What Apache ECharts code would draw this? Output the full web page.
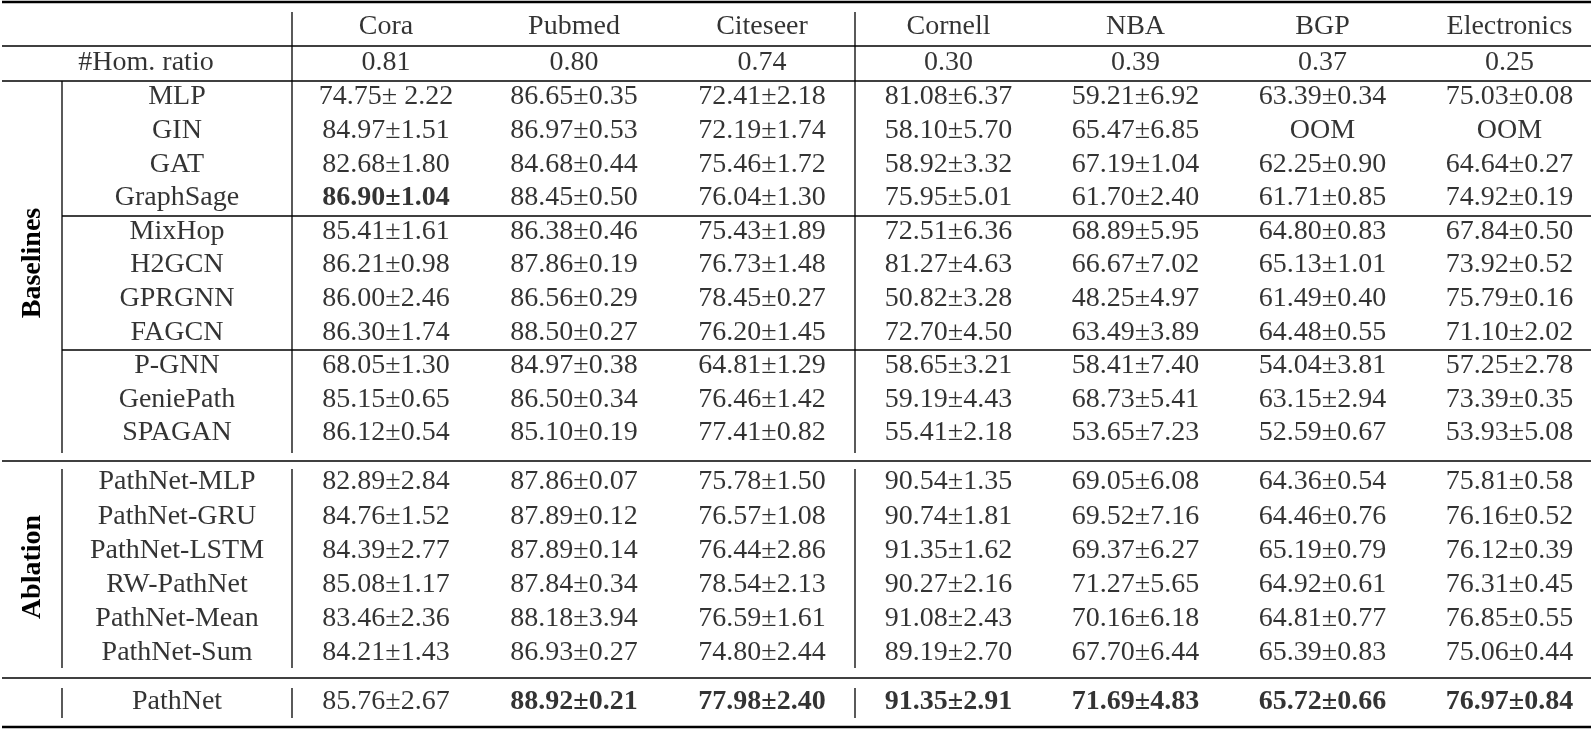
<!DOCTYPE html>
<html><head><meta charset="utf-8">
<script src="https://cdn.jsdelivr.net/npm/echarts@6/dist/echarts.min.js"></script>
<style>html,body{margin:0;background:#fff}#c{width:1593px;height:731px}</style>
</head><body><div id="c"></div>
<script>
const datasets = ['Cora', 'Pubmed', 'Citeseer', 'Cornell', 'NBA', 'BGP', 'Electronics'];
const homRatio = ['0.81', '0.80', '0.74', '0.30', '0.39', '0.37', '0.25'];
const baselineNames = ['MLP', 'GIN', 'GAT', 'GraphSage', 'MixHop', 'H2GCN', 'GPRGNN', 'FAGCN', 'P-GNN', 'GeniePath', 'SPAGAN'];
const baselineVals = [
  ['74.75± 2.22', '86.65±0.35', '72.41±2.18', '81.08±6.37', '59.21±6.92', '63.39±0.34', '75.03±0.08'],
  ['84.97±1.51', '86.97±0.53', '72.19±1.74', '58.10±5.70', '65.47±6.85', 'OOM', 'OOM'],
  ['82.68±1.80', '84.68±0.44', '75.46±1.72', '58.92±3.32', '67.19±1.04', '62.25±0.90', '64.64±0.27'],
  ['86.90±1.04', '88.45±0.50', '76.04±1.30', '75.95±5.01', '61.70±2.40', '61.71±0.85', '74.92±0.19'],
  ['85.41±1.61', '86.38±0.46', '75.43±1.89', '72.51±6.36', '68.89±5.95', '64.80±0.83', '67.84±0.50'],
  ['86.21±0.98', '87.86±0.19', '76.73±1.48', '81.27±4.63', '66.67±7.02', '65.13±1.01', '73.92±0.52'],
  ['86.00±2.46', '86.56±0.29', '78.45±0.27', '50.82±3.28', '48.25±4.97', '61.49±0.40', '75.79±0.16'],
  ['86.30±1.74', '88.50±0.27', '76.20±1.45', '72.70±4.50', '63.49±3.89', '64.48±0.55', '71.10±2.02'],
  ['68.05±1.30', '84.97±0.38', '64.81±1.29', '58.65±3.21', '58.41±7.40', '54.04±3.81', '57.25±2.78'],
  ['85.15±0.65', '86.50±0.34', '76.46±1.42', '59.19±4.43', '68.73±5.41', '63.15±2.94', '73.39±0.35'],
  ['86.12±0.54', '85.10±0.19', '77.41±0.82', '55.41±2.18', '53.65±7.23', '52.59±0.67', '53.93±5.08']
];
const ablationNames = ['PathNet-MLP', 'PathNet-GRU', 'PathNet-LSTM', 'RW-PathNet', 'PathNet-Mean', 'PathNet-Sum'];
const ablationVals = [
  ['82.89±2.84', '87.86±0.07', '75.78±1.50', '90.54±1.35', '69.05±6.08', '64.36±0.54', '75.81±0.58'],
  ['84.76±1.52', '87.89±0.12', '76.57±1.08', '90.74±1.81', '69.52±7.16', '64.46±0.76', '76.16±0.52'],
  ['84.39±2.77', '87.89±0.14', '76.44±2.86', '91.35±1.62', '69.37±6.27', '65.19±0.79', '76.12±0.39'],
  ['85.08±1.17', '87.84±0.34', '78.54±2.13', '90.27±2.16', '71.27±5.65', '64.92±0.61', '76.31±0.45'],
  ['83.46±2.36', '88.18±3.94', '76.59±1.61', '91.08±2.43', '70.16±6.18', '64.81±0.77', '76.85±0.55'],
  ['84.21±1.43', '86.93±0.27', '74.80±2.44', '89.19±2.70', '67.70±6.44', '65.39±0.83', '75.06±0.44']
];
const finalName = 'PathNet';
const finalVals = ['85.76±2.67', '88.92±0.21', '77.98±2.40', '91.35±2.91', '71.69±4.83', '65.72±0.66', '76.97±0.84'];
const boldBaseline = [[3, 0]]; // [row, col]
const boldFinal = [1, 2, 3, 4, 5, 6];

const FONT = 'Liberation Serif';
const colX = i => i < 3 ? 292 + (i + 0.5) * 188 : 855 + (i - 3 + 0.5) * 187;
const nameX = 177;
const baseY = r => 97 + r * 33.6;
const ablY = r => 482 + r * 34.2;
const finalY = 702;

const cells = [];
function cell(x, y, text, bold) {
  cells.push({ value: [x, y], label: { formatter: text, fontWeight: bold ? 'bold' : 'normal' } });
}
datasets.forEach((d, i) => cell(colX(i), 27, d));
cell(146, 63, '#Hom. ratio');
homRatio.forEach((v, i) => cell(colX(i), 63, v));
baselineNames.forEach((n, r) => {
  cell(nameX, baseY(r), n);
  baselineVals[r].forEach((v, i) => cell(colX(i), baseY(r), v, boldBaseline.some(b => b[0] === r && b[1] === i)));
});
ablationNames.forEach((n, r) => {
  cell(nameX, ablY(r), n);
  ablationVals[r].forEach((v, i) => cell(colX(i), ablY(r), v));
});
cell(nameX, finalY, finalName);
finalVals.forEach((v, i) => cell(colX(i), finalY, v, boldFinal.includes(i)));

const chart = echarts.init(document.getElementById('c'));
chart.setOption({
  animation: false,
  grid: { left: 0, right: 0, top: 0, bottom: 0 },
  xAxis: { type: 'value', min: 0, max: 1593, show: false },
  yAxis: { type: 'value', min: 0, max: 731, inverse: true, show: false },
  series: [{
    type: 'scatter', symbolSize: 0, data: cells,
    label: { show: true, position: 'inside', color: '#000', fontFamily: FONT, fontSize: 28 }
  }]
});

// rules and group labels
const L = 2, R = 1591;
const hl = (x1, x2, y, w) => ({ type: 'line', shape: { x1, y1: y, x2, y2: y }, style: { stroke: '#000', lineWidth: w || 1.3 } });
const vl = (x, y1, y2) => ({ type: 'line', shape: { x1: x, y1, x2: x, y2 }, style: { stroke: '#000', lineWidth: 1.3 } });
const verts = [];
[292, 855].forEach(x => {
  verts.push(vl(x, 12, 453), vl(x, 469, 668), vl(x, 688, 718));
});
chart.setOption({
  graphic: [
    hl(L, R, 2, 2.5), hl(L, R, 46), hl(L, R, 81), hl(62, R, 216), hl(62, R, 350),
    hl(L, R, 461), hl(L, R, 678), hl(L, R, 727, 2.5),
    ...verts, vl(62, 81, 453), vl(62, 469, 668), vl(62, 688, 718),
    { type: 'text', x: 33, y: 263, rotation: Math.PI / 2, style: { text: 'Baselines', font: 'bold 28px "Liberation Serif"', fill: '#000', align: 'center', verticalAlign: 'middle' } },
    { type: 'text', x: 33, y: 567, rotation: Math.PI / 2, style: { text: 'Ablation', font: 'bold 28px "Liberation Serif"', fill: '#000', align: 'center', verticalAlign: 'middle' } }
  ]
});
</script></body></html>
